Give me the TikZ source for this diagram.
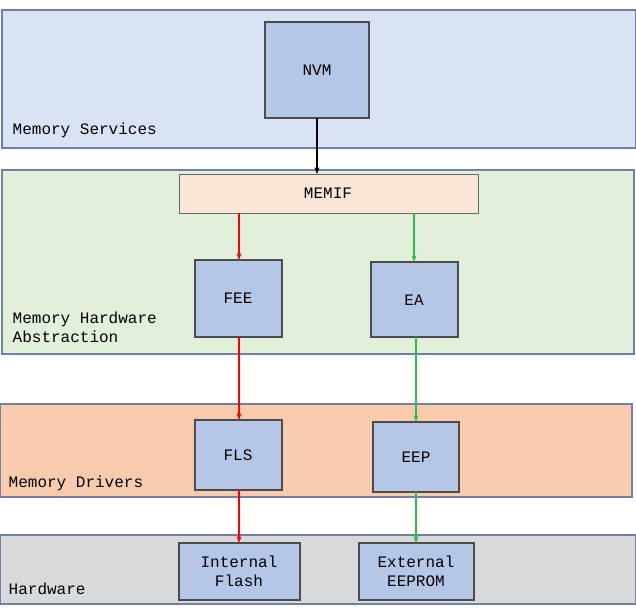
\documentclass[tikz,border=0pt]{standalone}
\usepackage{fontspec}
\setmainfont{Liberation Mono}
\usetikzlibrary{arrows.meta}
\definecolor{svc}{HTML}{DAE3F3}
\definecolor{abs}{HTML}{E2EFDA}
\definecolor{drv}{HTML}{F8CBAD}
\definecolor{hw}{HTML}{D9D9D9}
\definecolor{mod}{HTML}{B4C7E7}
\definecolor{mif}{HTML}{FBE5D6}
\definecolor{edge}{HTML}{6F7FA8}
\definecolor{gr}{HTML}{2DBE4E}
\begin{document}
\begin{tikzpicture}[x=0.75pt,y=-0.75pt,
  layer/.style={draw=edge,line width=0.8pt},
  box/.style={draw=black!70,fill=mod,line width=0.8pt},
  lbl/.style={anchor=west,font=\fontsize{12}{14}\selectfont,align=left},
  txt/.style={font=\fontsize{12}{14}\selectfont,align=center},
  arr/.style={-{Stealth[length=5pt]},line width=0.8pt}]
\useasboundingbox (0,0) rectangle (636,615);
\fill[white] (0,0) rectangle (636,615);
\draw[layer,fill=svc] (2,10) rectangle (636,148);
\draw[layer,fill=abs] (2,170) rectangle (634,354);
\draw[layer,fill=drv] (0,404) rectangle (632,497);
\draw[layer,fill=hw] (0,535) rectangle (636,604);
\node[lbl] (ls) at (8,130) {Memory Services};
\node[lbl] (la) at (8,327) {Memory Hardware\\Abstraction};
\node[lbl] (ld) at (4,483) {Memory Drivers};
\node[lbl] (lh) at (4,589) {Hardware};
\draw[box] (265,22) rectangle (369,118); \node[txt] (nvm) at (317,70) {NVM};
\draw[draw=black!60,fill=mif] (179,174) rectangle (478,213); \node[txt] (memif) at (328,193) {MEMIF};
\draw[box] (195,260) rectangle (282,337); \node[txt] (fee) at (238,298) {FEE};
\draw[box] (371,262) rectangle (458,337); \node[txt] (ea) at (414,300) {EA};
\draw[box] (195,420) rectangle (282,490); \node[txt] (fls) at (238,455) {FLS};
\draw[box] (373,422) rectangle (459,492); \node[txt] (eep) at (416,457) {EEP};
\draw[box,line width=1.5pt] (179,543) rectangle (300,600); \node[txt] (inf) at (239,571) {Internal\\Flash};
\draw[box] (359,543) rectangle (474,600); \node[txt] (exe) at (416,571) {External\\EEPROM};
\coordinate (a1) at (317,118); \coordinate (a2) at (317,174);
\draw[arr,black] (a1) -- (a2);
\coordinate (r1) at (239,213); \coordinate (r2) at (239,260);
\coordinate (r3) at (239,337); \coordinate (r4) at (239,420);
\coordinate (r5) at (239,490); \coordinate (r6) at (239,543);
\draw[arr,red] (r1) -- (r2);
\draw[arr,red] (r3) -- (r4);
\draw[arr,red] (r5) -- (r6);
\coordinate (g1) at (414,213); \coordinate (g2) at (414,262);
\coordinate (g3) at (416,337); \coordinate (g4) at (416,422);
\coordinate (g5) at (416,492); \coordinate (g6) at (416,543);
\draw[arr,gr] (g1) -- (g2);
\draw[arr,gr] (g3) -- (g4);
\draw[arr,gr] (g5) -- (g6);
\end{tikzpicture}
\end{document}
